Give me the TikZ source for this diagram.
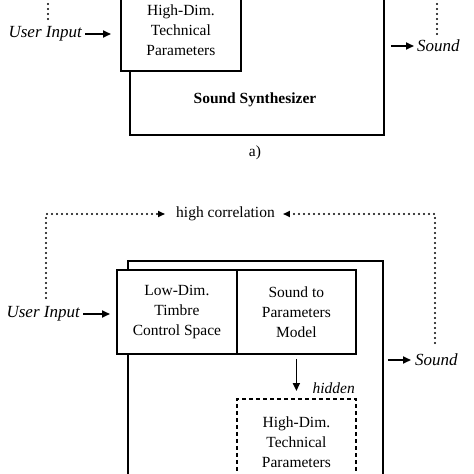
\documentclass[tikz,border=0pt]{standalone}
\usepackage{fontspec}
\setmainfont{Liberation Serif}
\usetikzlibrary{arrows.meta}
\begin{document}
\begin{tikzpicture}[x=1pt,y=-1pt,
  box/.style={draw, line width=1.8pt, fill=white, inner sep=0pt, align=center, font=\fontsize{15.5}{20}\selectfont},
  txt/.style={inner sep=0pt, font=\fontsize{15.5}{20}\selectfont},
  itxt/.style={inner sep=0pt, font=\fontsize{17}{20}\selectfont\itshape},
  arr/.style={line width=1.7pt, -{Triangle[length=8pt,width=7pt]}},
  dotline/.style={line width=2.1pt, line cap=round, dash pattern=on 0pt off 5pt},
  dottip/.style={-{Triangle[length=7pt,width=6pt]}}]
\useasboundingbox (0,0) rectangle (474,474);
\clip (0,0) rectangle (474,474);
\fill[white] (0,0) rectangle (474,474);
% ---------- part a ----------
\node[box, minimum width=254pt, minimum height=155pt, anchor=south west] (synth) at (129,136) {};
\node[txt] (synthlbl) at (255,100) {\bfseries Sound Synthesizer};
\node[box, minimum width=120pt, minimum height=82pt, anchor=south west] (hdA) at (120,72) {High-Dim.\\Technical\\Parameters};
\node[itxt, anchor=east] (uiA) at (82,34) {User Input};
\draw[arr, shorten <=3pt, shorten >=9pt] (uiA.east) -- (uiA.east -| hdA.west);
\node[itxt, anchor=west] (sndA) at (417,46) {Sound};
\draw[arr, shorten <=6pt, shorten >=3pt] (sndA.west -| synth.east) -- (sndA.west);
\coordinate (dlA1) at (48,-6);
\coordinate (dlA2) at (48,22);
\draw[dotline] (dlA1) -- (dlA2);
\coordinate (drA1) at (437,-6);
\coordinate (drA2) at (437,35);
\draw[dotline] (drA1) -- (drA2);
\node[txt] (capA) at (255,153) {a)};
% ---------- part b ----------
\node[box, minimum width=255pt, minimum height=240pt, anchor=north west] (synthB) at (127,260) {};
\node[box, minimum width=120pt, minimum height=84pt, anchor=north west] (ldB) at (116,269) {Low-Dim.\\Timbre\\Control Space};
\node[box, minimum width=119pt, minimum height=84pt, anchor=north west] (spB) at (236,269) {Sound to\\Parameters\\Model};
\node[box, dash pattern=on 4pt off 3pt, minimum width=119pt, minimum height=86pt, anchor=north west] (hdB) at (236,398) {High-Dim.\\Technical\\Parameters};
\node[txt, anchor=base east, font=\fontsize{15.5}{20}\selectfont\itshape] (hidB) at (355,393) {hidden};
\draw[arr, shorten <=4pt, shorten >=7pt] (spB.south) -- (spB.south |- hdB.north);
\node[itxt, anchor=east] (uiB) at (80,314) {User Input};
\draw[arr, shorten <=3pt, shorten >=6pt] (uiB.east) -- (uiB.east -| ldB.west);
\node[itxt, anchor=west] (sndB) at (415,360) {Sound};
\draw[arr, shorten <=4pt, shorten >=4pt] (sndB.west -| synthB.east) -- (sndB.west);
\node[txt] (hc) at (225.5,214) {high correlation};
\coordinate (dlB) at (46,298);
\coordinate (drB) at (435,343);
\draw[dotline, dottip, shorten >=11pt] (dlB) |- (hc.west);
\draw[dotline, dottip, shorten >=8pt] (drB) |- (hc.east);
\end{tikzpicture}
\end{document}
